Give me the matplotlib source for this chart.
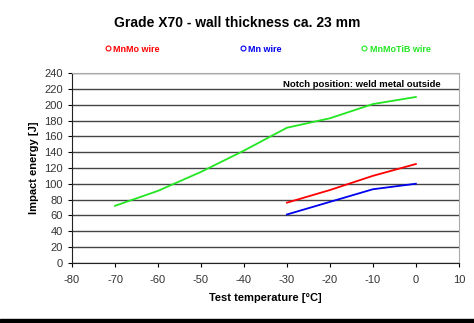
import matplotlib
matplotlib.use('Agg')

import matplotlib.pyplot as plt
from matplotlib.lines import Line2D
from matplotlib.patches import Rectangle

plt.rcParams['font.family'] = ['Liberation Sans', 'DejaVu Sans']
plt.rcParams['axes.unicode_minus'] = False

# Data
temps_mnmo = [-30, -20, -10, 0]
energy_mnmo = [76, 92, 110, 125]

temps_mn = [-30, -20, -10, 0]
energy_mn = [61, 77, 93, 100]

temps_tib = [-70, -60, -50, -40, -30, -20, -10, 0]
energy_tib = [72, 91, 115, 142, 171, 183, 201, 210]

series_names = ["MnMo wire", "Mn wire", "MnMoTiB wire"]
series_colors = ["#ff0000", "#0000ee", "#22e622"]


def main():
    fig = plt.figure(figsize=(4.74, 3.23), dpi=100)
    ax = fig.add_axes([0.152, 0.187, 0.816, 0.586])

    ax.grid(True, axis='y', color='#444444', linewidth=1.0, zorder=0)

    data = [(temps_mnmo, energy_mnmo), (temps_mn, energy_mn), (temps_tib, energy_tib)]
    for (t, e), c in zip(data, series_colors):
        ax.plot(t, e, color=c, linewidth=1.3, zorder=3)

    ax.set_xlim(-80, 10)
    ax.set_ylim(0, 240)
    ax.set_xticks(range(-80, 11, 10))
    ax.set_yticks(range(0, 241, 20))
    ax.tick_params(labelsize=8, direction='out', length=3, width=0.8,
                   labelcolor='#333333')
    ax.tick_params(axis='x', pad=6)

    for s in ['top', 'right']:
        ax.spines[s].set_color('#aaaaaa')
    for s in ['left', 'bottom']:
        ax.spines[s].set_color('#222222')

    ax.set_ylabel("Impact energy [J]", fontsize=8, fontweight='bold', labelpad=4)
    ax.set_xlabel("Test temperature [\u00b0C]", fontsize=8, fontweight='bold', labelpad=6)

    ax.text(0.952, 0.94, "Notch position: weld metal outside", transform=ax.transAxes,
            ha='right', va='center', fontsize=6.8, fontweight='bold')

    fig.text(0.5, 0.93, "Grade X70 - wall thickness ca. 23 mm", ha='center', va='center',
             fontsize=10, fontweight='bold')

    handles = [Line2D([], [], linestyle='none', marker='o', markersize=3.5,
                      markerfacecolor='none', markeredgecolor=c, markeredgewidth=0.8)
               for c in series_colors]
    leg = fig.legend(handles, series_names, loc='center', bbox_to_anchor=(0.565, 0.848),
                     ncol=3, frameon=False, fontsize=6.5, columnspacing=8.9,
                     handlelength=0.6, handletextpad=0.3)
    for txt, c in zip(leg.get_texts(), series_colors):
        txt.set_color(c)
        txt.set_fontweight('bold')

    fig.patches.append(Rectangle((0, 0), 1, 0.012, transform=fig.transFigure,
                                 color='black', zorder=10))

    fig.savefig("out.png", dpi=100)
    plt.close(fig)


if __name__ == "__main__":
    main()
